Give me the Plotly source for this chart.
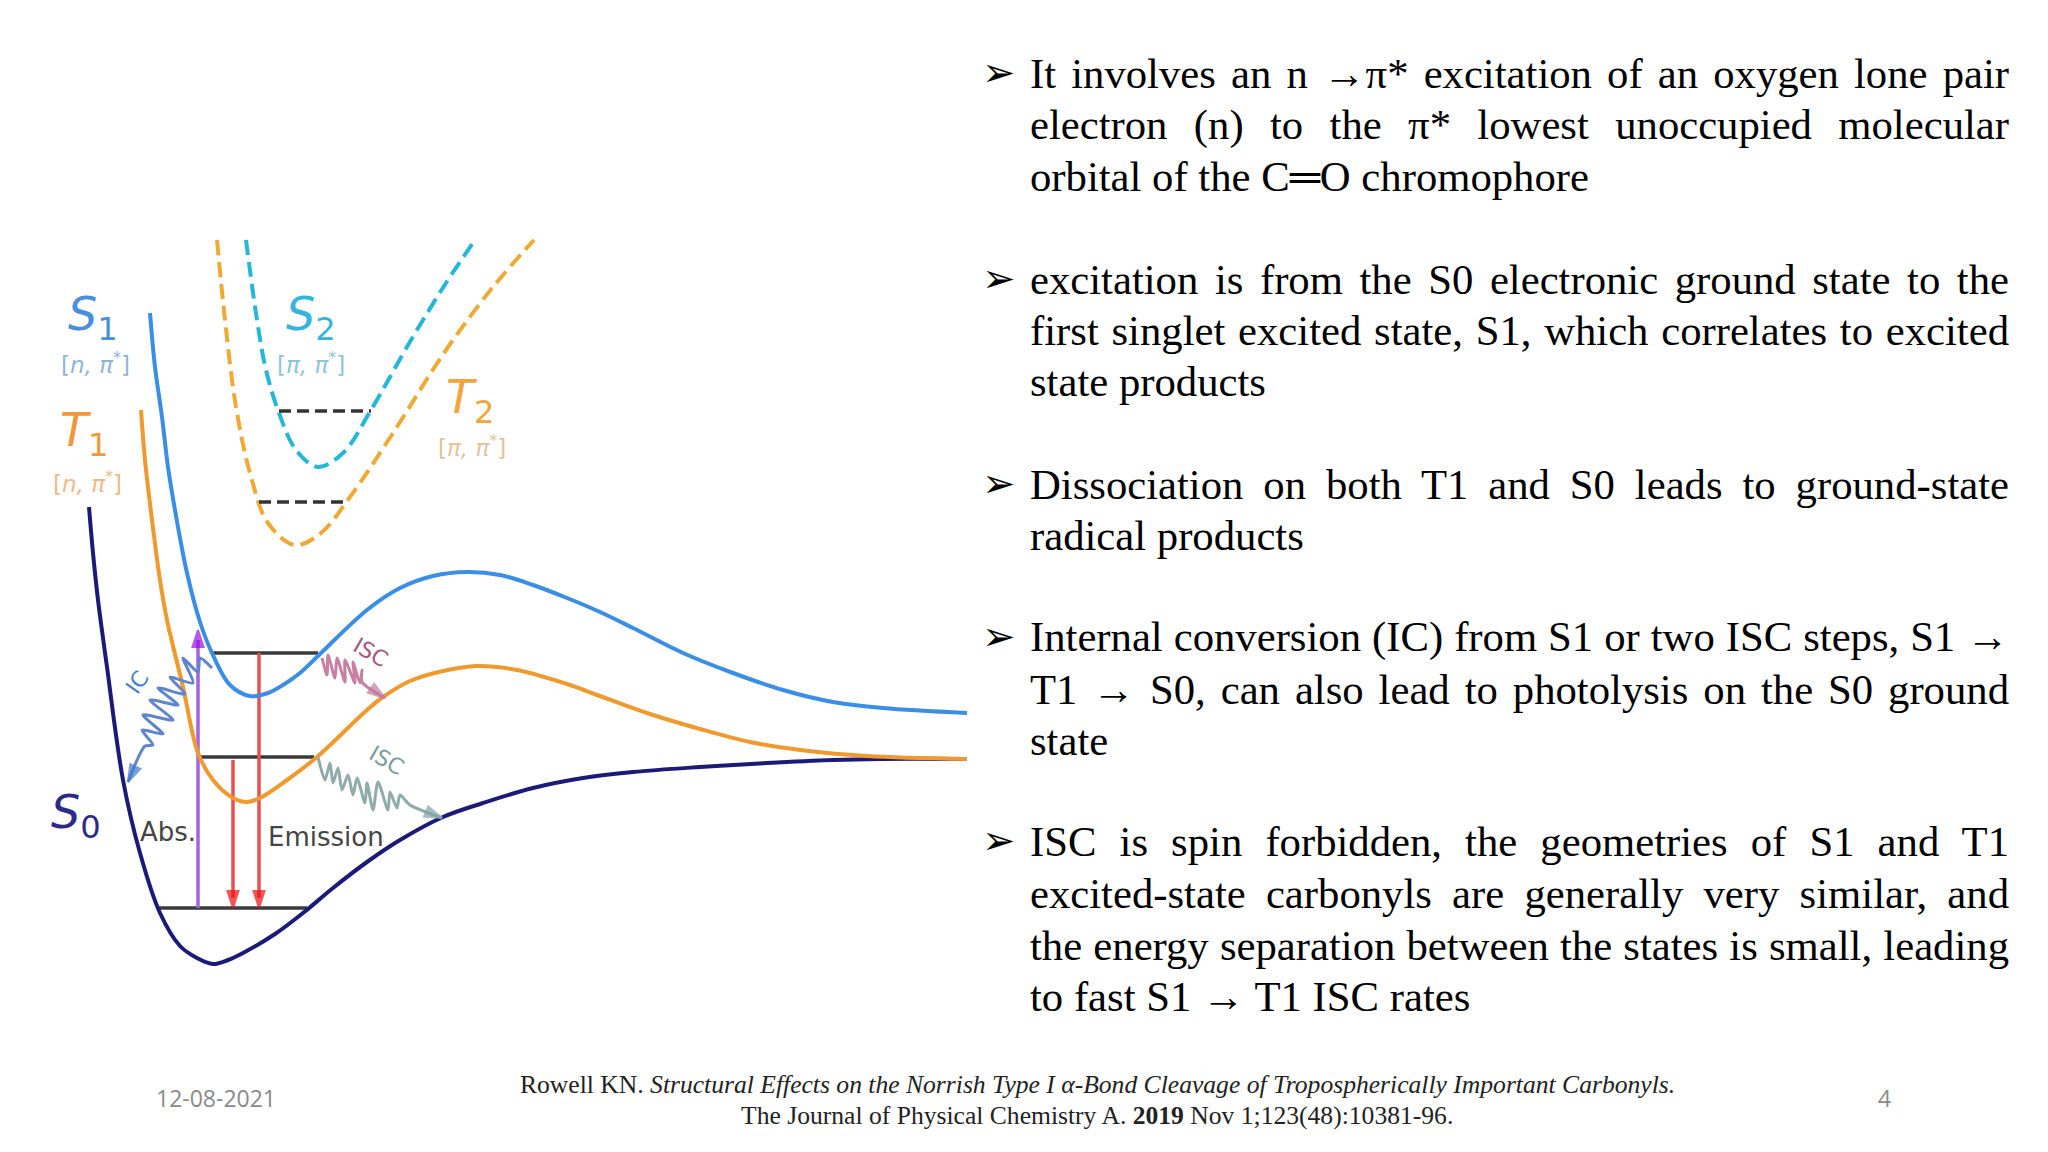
import json
import plotly.graph_objects as go

# Potential energy curves
s0_x = [89, 93, 98, 103, 107, 123, 140, 160, 180, 197, 213, 228, 243, 275, 303, 333, 367, 400, 443, 483, 533, 583, 633, 700, 767, 833, 880, 967]
s0_y = [507, 553, 600, 638, 667, 780, 853, 913, 946, 958, 964, 960, 953, 934, 913, 888, 862, 840, 817, 803, 788, 778, 772, 767, 763, 760, 759, 759]

s1_x = [150, 155, 162, 168, 178, 187, 200, 212, 230, 250, 268, 283, 300, 320, 367, 400, 433, 467, 500, 533, 567, 600, 633, 683, 733, 783, 833, 883, 967]
s1_y = [313, 367, 417, 467, 527, 573, 622, 653, 685, 696, 693, 685, 673, 654, 610, 588, 576, 572, 575, 585, 598, 612, 628, 653, 673, 690, 702, 708, 713]

t1_x = [141, 145, 152, 160, 167, 183, 198, 213, 233, 247, 260, 287, 317, 367, 383, 410, 443, 477, 517, 567, 600, 650, 700, 750, 800, 867, 967]
t1_y = [410, 460, 520, 580, 620, 687, 753, 780, 798, 802, 798, 780, 757, 710, 697, 681, 671, 666, 670, 684, 696, 714, 729, 742, 750, 756, 759]

s2_x = [246, 257, 266, 279, 296, 318, 343, 371, 411, 446, 475]
s2_y = [240, 320, 370, 413, 450, 467, 453, 410, 340, 283, 240]

t2_x = [217, 225, 236, 250, 268, 295, 321, 350, 393, 446, 493, 534]
t2_y = [240, 320, 407, 473, 523, 545, 533, 497, 433, 350, 287, 240]

# Vibrational levels: (x start, x end, y)
solid_levels = [(211, 318, 653), (200, 314, 757), (158, 307, 908)]
dashed_levels = [(279, 371, 411), (259, 345, 502)]

# Absorption and emission arrows: (x, from y, to y)
abs_arrow = (198, 908, 630)
emission_arrows = [(233, 760, 908), (259, 653, 908)]

# Wavy transitions
ic_x = [212, 200, 198, 183, 193, 170, 185, 158, 178, 150, 173, 143, 163, 142, 153, 145, 128]
ic_y = [668, 658, 672, 658, 683, 677, 694, 688, 705, 700, 720, 715, 734, 730, 745, 746, 782]
isc1_x = [322, 327, 328, 335, 337, 345, 345, 355, 353, 360, 362, 362, 385]
isc1_y = [658, 675, 655, 678, 658, 682, 660, 683, 662, 683, 670, 682, 698]
isc2_x = [318, 325, 330, 333, 338, 342, 348, 353, 357, 365, 367, 373, 378, 388, 390, 397, 400, 410, 442]
isc2_y = [757, 780, 763, 783, 768, 790, 775, 795, 778, 803, 783, 810, 782, 810, 792, 808, 795, 805, 818]

# Diagram labels: text, x, y, size, colour, rotation
labels = [
    ("<i>S</i><sub>1</sub>", 93, 317, 46, "#4a8fdc", 0),
    ("[<i>n, π</i><sup>*</sup>]", 95, 363, 23, "#8fb4dc", 0),
    ("<i>S</i><sub>2</sub>", 311, 317, 46, "#35b5da", 0),
    ("[<i>π, π</i><sup>*</sup>]", 311, 363, 23, "#8fc4d8", 0),
    ("<i>T</i><sub>1</sub>", 84, 433, 46, "#f0983c", 0),
    ("[<i>n, π</i><sup>*</sup>]", 87, 482, 23, "#eeb988", 0),
    ("<i>T</i><sub>2</sub>", 470, 400, 46, "#f0a63c", 0),
    ("[<i>π, π</i><sup>*</sup>]", 472, 446, 23, "#e0c49a", 0),
    ("<i>S</i><sub>0</sub>", 76, 815, 46, "#2b2a86", 0),
    ("IC", 137, 682, 22, "#4a7fcc", -55),
    ("ISC", 371, 652, 22, "#a8557f", 30),
    ("ISC", 387, 760, 22, "#7c9c9c", 30),
    ("Abs.", 168, 832, 26, "#444444", 0),
    ("Emission", 326, 837, 26, "#444444", 0),
]

# Right hand text, one list per paragraph, with the y of each line
paragraphs = [
    ["It involves an n →π* excitation of an oxygen lone pair",
     "electron (n) to the π* lowest unoccupied molecular",
     "orbital of the C═O chromophore"],
    ["excitation is from the S0 electronic ground state to the",
     "first singlet excited state, S1, which correlates to excited",
     "state products"],
    ["Dissociation on both T1 and S0 leads to ground-state",
     "radical products"],
    ["Internal conversion (IC) from S1 or two ISC steps, S1 →",
     "T1 → S0, can also lead to photolysis on the S0 ground",
     "state"],
    ["ISC is spin forbidden, the geometries of S1 and T1",
     "excited-state carbonyls are generally very similar, and",
     "the energy separation between the states is small, leading",
     "to fast S1 → T1 ISC rates"],
]
line_y = [
    [73, 125, 176],
    [279, 330, 381],
    [484, 535],
    [637, 689, 740],
    [841, 893, 945, 996],
]

date_text = "12-08-2021"
page_text = "4"
citation_1 = "Rowell KN. <i>Structural Effects on the Norrish Type I α-Bond Cleavage of Tropospherically Important Carbonyls.</i>"
citation_2 = "The Journal of Physical Chemistry A. <b>2019</b> Nov 1;123(48):10381-96."

TEXT_LEFT = 1028
TEXT_RIGHT = 2007

fig = go.Figure()


def add_line(x, y, color, width, dash="solid", shape="spline", smoothing=1):
    fig.add_trace(go.Scatter(x=x, y=y, mode="lines", hoverinfo="skip",
                             line=dict(color=color, width=width, dash=dash, shape=shape, smoothing=smoothing)))


def add_head(x0, y0, x1, y1, color, size=18):
    # the arrow symbol has its tip on the point and turns along the segment
    fig.add_trace(go.Scatter(x=[x0, x1], y=[y0, y1], mode="markers", hoverinfo="skip",
                             marker=dict(symbol="arrow", angleref="previous", size=[0, size], color=color,
                                         line=dict(width=2, color=color))))


# dashed upper states
add_line(t2_x, t2_y, "#eeaa35", 4, dash="15px,7px")
add_line(s2_x, s2_y, "#25b7d8", 4, dash="15px,7px")
for x0, x1, y in dashed_levels:
    add_line([x0, x1], [y, y], "#333333", 3.5, dash="12px,6px", shape="linear")

# levels and vertical transitions
for x0, x1, y in solid_levels:
    add_line([x0, x1], [y, y], "#3a3a3a", 3.5, shape="linear")
add_line([abs_arrow[0], abs_arrow[0]], [abs_arrow[1], abs_arrow[2] + 10], "#a562e0", 3.5, shape="linear")
add_head(abs_arrow[0], abs_arrow[1], abs_arrow[0], abs_arrow[2], "#9a10e0")
for x, y0, y1 in emission_arrows:
    add_line([x, x], [y0, y1 - 10], "#e85050", 3.5, shape="linear")
    add_head(x, y0, x, y1, "#f01010")

# ground and excited state curves
add_line(s1_x, s1_y, "#3a8ee6", 4)
add_line(s0_x, s0_y, "#1c1a78", 4)
add_line(t1_x, t1_y, "#f0992e", 4)

# wavy arrows
add_line(ic_x, ic_y, "#5f85cc", 3, smoothing=0.7)
add_head(ic_x[-2], ic_y[-2], ic_x[-1], ic_y[-1], "#3f78c8")
add_line(isc1_x, isc1_y, "#c87fa4", 3, smoothing=0.7)
add_head(isc1_x[-2], isc1_y[-2], isc1_x[-1], isc1_y[-1], "#c47a9e")
add_line(isc2_x, isc2_y, "#8fabab", 3, smoothing=0.7)
add_head(isc2_x[-2], isc2_y[-2], isc2_x[-1], isc2_y[-1], "#7fa3a8")

for text, x, y, size, color, rot in labels:
    fig.add_annotation(x=x, y=y, text=text, showarrow=False, textangle=rot,
                       font=dict(family="DejaVu Sans", size=size, color=color))

justified = []
for lines, ys in zip(paragraphs, line_y):
    fig.add_annotation(x=999, y=ys[0] - 1, text="➢", showarrow=False,
                       font=dict(family="DejaVu Sans", size=40, color="black"))
    for line, y in zip(lines, ys):
        fig.add_annotation(x=TEXT_LEFT, y=y, text=line, showarrow=False, xanchor="left", align="left",
                           font=dict(family="Liberation Serif", size=42.7, color="black"))
    justified += lines[:-1]

fig.add_annotation(x=216, y=1098, text=date_text, showarrow=False,
                   font=dict(family="Open Sans", size=23, color="#8a8a8a"))
fig.add_annotation(x=1884, y=1098, text=page_text, showarrow=False,
                   font=dict(family="Open Sans", size=23, color="#8a8a8a"))
fig.add_annotation(x=1097, y=1084, text=citation_1, showarrow=False,
                   font=dict(family="Liberation Serif", size=25.6, color="#222222"))
fig.add_annotation(x=1097, y=1115, text=citation_2, showarrow=False,
                   font=dict(family="Liberation Serif", size=25.6, color="#222222"))

fig.update_xaxes(range=[0, 2048], visible=False, fixedrange=True)
fig.update_yaxes(range=[1152, 0], visible=False, fixedrange=True)
fig.update_layout(width=2048, height=1152, margin=dict(l=0, r=0, t=0, b=0),
                  showlegend=False, plot_bgcolor="white", paper_bgcolor="white")

# plotly has no justified text, so stretch the word spacing of those lines after drawing
post = """
document.body.style.margin = '0';
var lines = %s;
document.querySelectorAll('.annotation-text').forEach(function (t) {
    var s = t.textContent;
    if (lines.indexOf(s) < 0) return;
    var gaps = s.split(' ').length - 1;
    t.style.wordSpacing = ((%d - t.getComputedTextLength()) / gaps) + 'px';
});
""" % (json.dumps(justified, ensure_ascii=False), TEXT_RIGHT - TEXT_LEFT)

fig.write_html("out.html", config=dict(displayModeBar=False), post_script=post)
